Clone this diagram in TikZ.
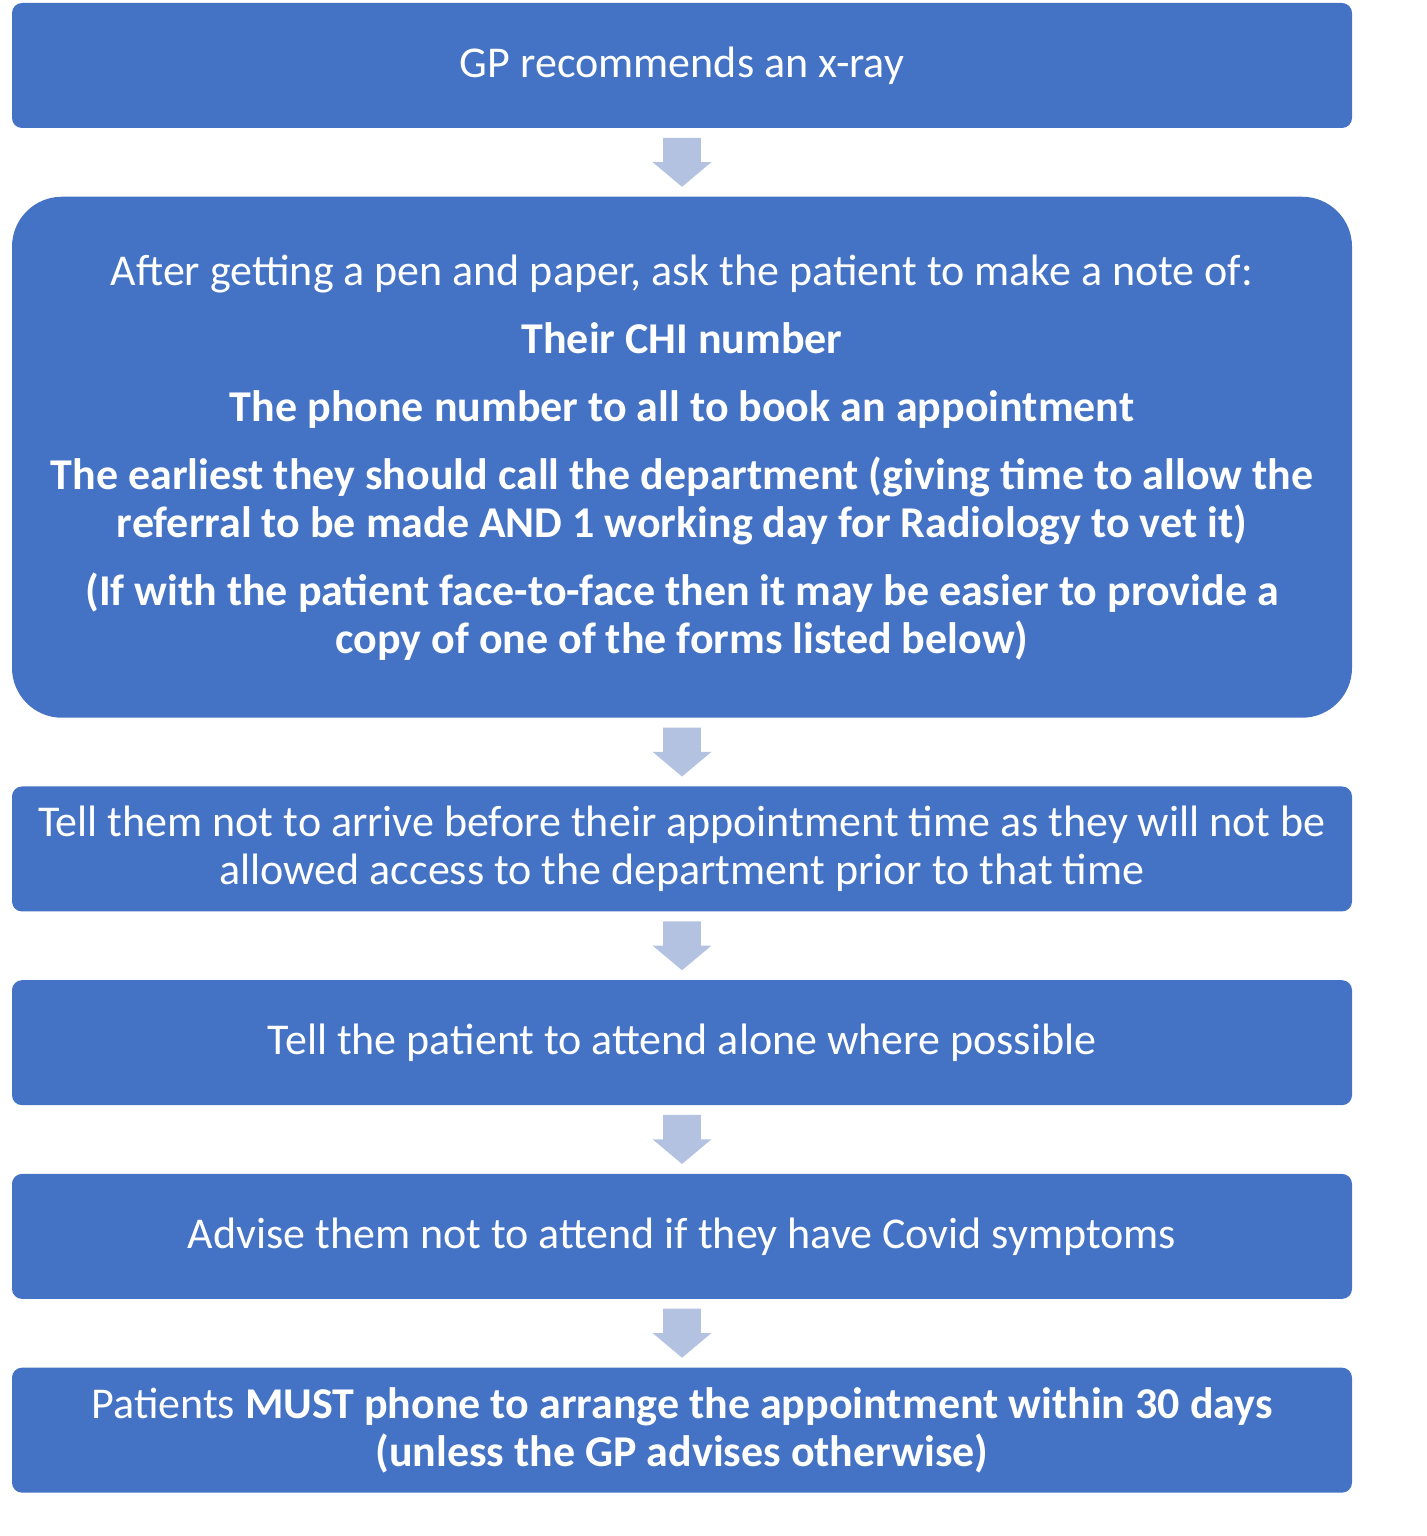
\documentclass[tikz,border=0pt]{standalone}
\usepackage{fontspec}
\setmainfont{Carlito}
\usetikzlibrary{shapes,arrows}
\usetikzlibrary{positioning}
\definecolor{boxblue}{HTML}{4472C4}
\definecolor{arrowblue}{HTML}{B4C2E2}
\tikzstyle{box}=[fill=boxblue, rounded corners=5pt, text=white, inner sep=0pt,
minimum width=670pt, minimum height=62.5pt, align=center,
font=\fontsize{22}{24}\selectfont]
\tikzstyle{bigbox}=[box, rounded corners=25pt, minimum height=260.5pt]
\tikzstyle{downarrow}=[single arrow, fill=arrowblue, inner xsep=9.25pt, inner ysep=0pt,
shape border rotate=270, minimum height=24.5pt,
single arrow head extend=5.25pt, single arrow tip angle=100]

\begin{document}
\begin{tikzpicture}

    \useasboundingbox (0,0) rectangle (713pt,-768pt);

    % GP
    \node[box] (gp) at (341pt,-32.75pt) {GP recommends an x-ray};
    \node[downarrow, below=4.5pt of gp] (arr1) {};

    % NOTE
    \node[bigbox, below=4.5pt of arr1] (note) {After getting a pen and paper, ask the patient to make a note of:\\[10pt]
    \textbf{Their CHI number}\\[10pt]
    \textbf{The phone number to all to book an appointment}\\[10pt]
    \textbf{The earliest they should call the department (giving time to allow the}\\
    \textbf{referral to be made AND 1 working day for Radiology to vet it)}\\[10pt]
    \textbf{(If with the patient face-to-face then it may be easier to provide a}\\
    \textbf{copy of one of the forms listed below)}} ;
    \node[downarrow, below=4.5pt of note] (arr2) {};

    % ARRIVE
    \node[box, below=4.5pt of arr2] (arrive) {Tell them not to arrive before their appointment time as they will not be\\
    allowed access to the department prior to that time} ;
    \node[downarrow, below=4.5pt of arrive] (arr3) {};

    % ALONE
    \node[box, below=4.5pt of arr3] (alone) {Tell the patient to attend alone where possible} ;
    \node[downarrow, below=4.5pt of alone] (arr4) {};

    % COVID
    \node[box, below=4.5pt of arr4] (covid) {Advise them not to attend if they have Covid symptoms} ;
    \node[downarrow, below=4.5pt of covid] (arr5) {};

    % PHONE
    \node[box, below=4.5pt of arr5] (phone) {Patients \textbf{MUST phone to arrange the appointment within 30 days}\\
    \textbf{(unless the GP advises otherwise)}} ;

\end{tikzpicture}
\end{document}
